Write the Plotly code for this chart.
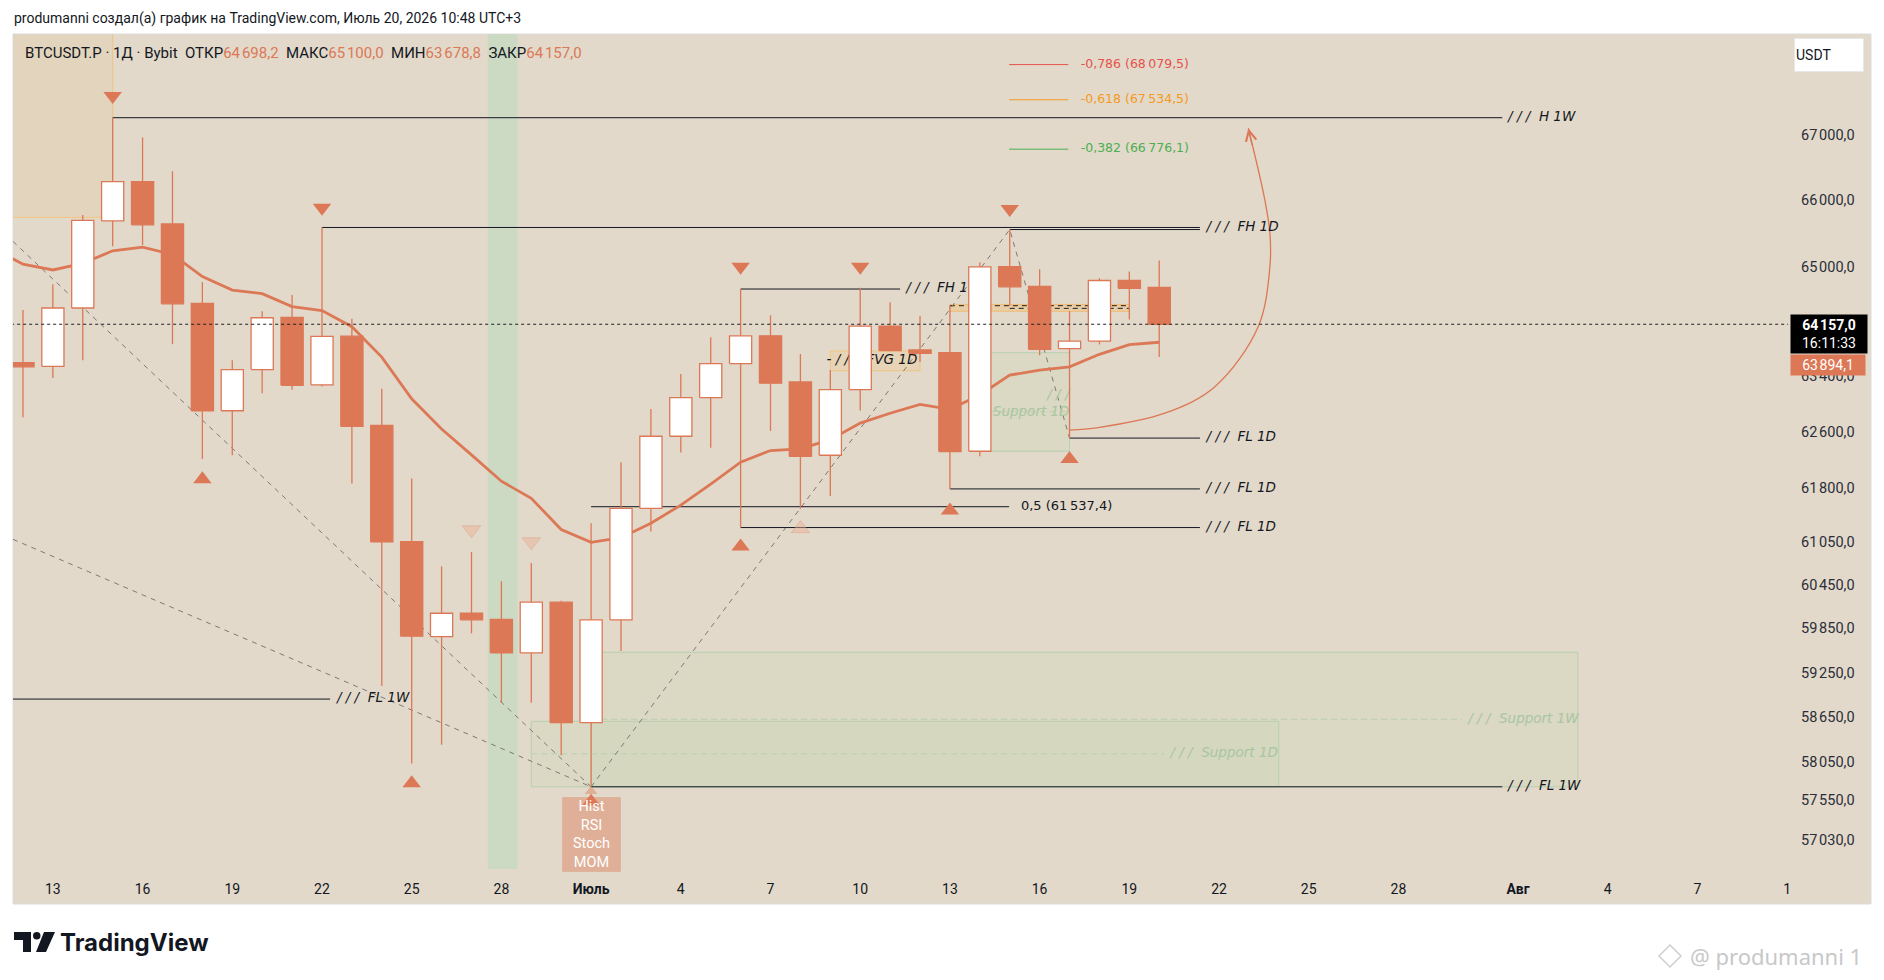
import math
import pandas as pd
import plotly.graph_objects as go

ORANGE = "#dc7856"
BG = "#e2d9ca"
INK = "#131722"
ZONE_GREEN = "#a8c69f"

# ---- BTCUSDT.P 1D (Bybit) ----
days = ["2026-06-12", "2026-06-13", "2026-06-14", "2026-06-15", "2026-06-16", "2026-06-17",
        "2026-06-18", "2026-06-19", "2026-06-20", "2026-06-21", "2026-06-22", "2026-06-23",
        "2026-06-24", "2026-06-25", "2026-06-26", "2026-06-27", "2026-06-28", "2026-06-29",
        "2026-06-30", "2026-07-01", "2026-07-02", "2026-07-03", "2026-07-04", "2026-07-05",
        "2026-07-06", "2026-07-07", "2026-07-08", "2026-07-09", "2026-07-10", "2026-07-11",
        "2026-07-12", "2026-07-13", "2026-07-14", "2026-07-15", "2026-07-16", "2026-07-17",
        "2026-07-18", "2026-07-19", "2026-07-20"]
opens = [63596, 63543, 64396, 65691, 66283, 65644, 64464, 62902, 63496, 64258, 63276, 63983,
         62692, 61047, 59737, 60057, 59973, 59515, 60210, 58575, 59967, 61513, 62536, 63091,
         63583, 63988, 63316, 62265, 63205, 64130, 63781, 63742, 62322, 65007, 64713, 63800,
         63911, 64802, 64698.2]
highs = [64365, 64746, 65780, 67258, 66956, 66440, 64779, 63632, 64350, 64588, 65592, 64239,
         63219, 61935, 60704, 60904, 60499, 60751, 60230, 61305, 62167, 62927, 63431, 63966,
         64676, 64289, 63723, 63491, 64694, 64479, 64280, 64430, 65068, 65561, 64968, 64352,
         64836, 64937, 65100]
lows = [62808, 63374, 63632, 65312, 65329, 63866, 62213, 62265, 63153, 63205, 63250, 61865,
        59068, 58029, 58280, 59783, 58842, 58842, 58141, 57722, 59542, 61191, 62305, 62373,
        61245, 62612, 61509, 61689, 62904, 63762, 63608, 61788, 62252, 64430, 63704, 62510,
        63863, 64227, 63678.8]
closes = [63536, 64396, 65698, 66283, 65631, 64457, 62902, 63496, 64253, 63269, 63980, 62678,
          61044, 59743, 60057, 59967, 59515, 60210, 58575, 59967, 61513, 62536, 63091, 63583,
          63988, 63300, 62248, 63205, 64130, 63772, 63733, 62317, 65003, 64708, 63791, 63911,
          64802, 64685, 64157]

# moving average (orange line)
ma_days = ["2026-06-11"] + days
ma_vals = [65284, 65044, 64958, 65057, 65243, 65297, 65189, 64859, 64660, 64607, 64417, 64358,
           64121, 63678, 63074, 62639, 62270, 61897, 61655, 61218, 61038, 61104, 61305, 61560,
           61856, 62167, 62332, 62356, 62488, 62724, 62866, 62994, 62923, 63129, 63416, 63487,
           63536, 63718, 63858, 63894.1]

# horizontal levels
lvl_start = ["2026-06-15", "2026-06-22", "2026-07-15", "2026-07-06", "2026-07-17",
             "2026-07-13", "2026-07-06", "2026-06-10", "2026-07-01", "2026-07-01"]
lvl_end = ["2026-07-31 11:20", "2026-07-21 08:40", "2026-07-21 08:40", "2026-07-11 08:00",
           "2026-07-21 08:40", "2026-07-21 08:40", "2026-07-21 08:40", "2026-06-22 06:30",
           "2026-07-31 11:20", "2026-07-14 23:30"]
lvl_price = [67258, 65592, 65561, 64676, 62510, 61788, 61245, 58891, 57722, 61537.4]
lvl_label = ["<i>/ / /  H 1W</i>", "<i>/ / /  FH 1D</i>", "", "<i>/ / /  FH 1D</i>",
             "<i>/ / /  FL 1D</i>", "<i>/ / /  FL 1D</i>", "<i>/ / /  FL 1D</i>",
             "<i>/ / /  FL 1W</i>", "<i>/ / /  FL 1W</i>", "0,5 (61\u202f537,4)"]
lvl_label_x = ["2026-07-31 16:00", "2026-07-21 14:00", "2026-07-21 14:00", "2026-07-11 13:00",
               "2026-07-21 14:00", "2026-07-21 14:00", "2026-07-21 14:00", "2026-06-22 12:00",
               "2026-07-31 16:00", "2026-07-15 09:00"]

# fib extension levels
fib_label = ["-0,786 (68\u202f079,5)", "-0,618 (67\u202f534,5)", "-0,382 (66\u202f776,1)"]
fib_price = [68079.5, 67534.5, 66776.1]
fib_color = ["#e5534b", "#f59a23", "#4caf50"]
fib_start = "2026-07-14 23:30"
fib_end = "2026-07-16 23:00"

# support zones
zone_x0 = ["2026-07-01", "2026-06-29", "2026-07-14"]
zone_x1 = ["2026-08-03", "2026-07-24", "2026-07-17"]
zone_lo = [57722, 57722, 62322]
zone_hi = [59524, 58592, 63742]
zone_mid = [58620, 58159, 62888]
zone_mid_x0 = ["2026-07-01", "2026-06-29", "2026-07-14"]
zone_mid_x1 = ["2026-07-30 03:00", "2026-07-20 04:00", "2026-07-17"]
zone_label = ["<i>/ / /  Support 1W</i>", "<i>/ / /  Support 1D</i>",
              "<i>/ / /<br>Support 1D</i>"]
zone_label_x = ["2026-07-30 08:00", "2026-07-20 09:00", "2026-07-17"]
zone_label_y = [58620, 58159, 63000]

# dashed trend lines
trend_x = [["2026-06-11 16:00", "2026-07-01"], ["2026-06-11 16:00", "2026-07-01"],
           ["2026-07-01", "2026-07-15", "2026-07-17"]]
trend_y = [[65383, 57722], [61080, 57722], [57722, 65561, 62510]]

# projected path (curved arrow)
curve_x = ["2026-07-17 00:00", "2026-07-17 23:00", "2026-07-20 04:30", "2026-07-21 20:40",
           "2026-07-23 07:30", "2026-07-23 16:50", "2026-07-23 16:50", "2026-07-23 12:45",
           "2026-07-22 23:30"]
curve_y = [62625, 62660, 62866, 63248, 64125, 65009, 65505, 66007, 67096]

# signal triangles
tri_down_days = ["2026-06-15", "2026-06-22", "2026-07-06", "2026-07-10", "2026-07-15"]
tri_down_price = [67591, 65888, 65007, 65007, 65870]
tri_up_days = ["2026-06-18", "2026-06-25", "2026-07-01", "2026-07-06", "2026-07-13", "2026-07-17"]
tri_up_price = [61924, 57770, 57525, 60979, 61484, 62213]
faint_down_days = ["2026-06-27", "2026-06-29"]
faint_down_price = [61214, 61047]
faint_up_days = ["2026-07-08"]
faint_up_price = [61231]

last_price = 64157
ma_last = 63894.1

tick_days = ["2026-06-13", "2026-06-16", "2026-06-19", "2026-06-22", "2026-06-25", "2026-06-28",
             "2026-07-01", "2026-07-04", "2026-07-07", "2026-07-10", "2026-07-13", "2026-07-16",
             "2026-07-19", "2026-07-22", "2026-07-25", "2026-07-28", "2026-08-01", "2026-08-04",
             "2026-08-07", "2026-08-10"]
tick_text = ["13", "16", "19", "22", "25", "28", "<b>Июль</b>", "4", "7", "10", "13", "16",
             "19", "22", "25", "28", "<b>Авг</b>", "4", "7", "1"]
price_ticks = [67000, 66000, 65000, 63400, 62600, 61800, 61050, 60450, 59850, 59250, 58650,
               58050, 57550, 57030]


def fmt(v):
    s = f"{v:,.1f}"
    return s.replace(",", " ").replace(".", ",").replace(" ", "\u202f")


W, H = 1884, 980
ML, MR, MT, MB = 13, 96, 34, 111
PW, PH = W - ML - MR, H - MT - MB


def pp(x, y):
    # pixel -> paper
    return (x - ML) / PW, (H - MB - y) / PH


fig = go.Figure()


def line(x, y, color, width=1.0, dash=None):
    fig.add_trace(go.Scatter(x=x, y=y, mode="lines", hoverinfo="skip",
                             line=dict(color=color, width=width, dash=dash)))


def box(x0, x1, lo, hi, fill, edge):
    fig.add_trace(go.Scatter(x=[x0, x1, x1, x0, x0], y=[lo, lo, hi, hi, lo], mode="lines",
                             fill="toself", fillcolor=fill, hoverinfo="skip",
                             line=dict(color=edge, width=1)))


def labels(x, y, text, color=INK, size=13.5, pos="middle right"):
    fig.add_trace(go.Scatter(x=x, y=y, mode="text", text=text, textposition=pos,
                             hoverinfo="skip",
                             textfont=dict(family="DejaVu Sans", size=size, color=color)))


# highlighted weekly area, top left
box("2026-06-10", "2026-06-15", 65743, 70000, "rgba(240,185,110,0.13)", "rgba(245,190,110,0.75)")

# zones
for i in range(len(zone_x0)):
    box(zone_x0[i], zone_x1[i], zone_lo[i], zone_hi[i], "rgba(170,210,160,0.12)", "#b7d1ae")
    line([zone_mid_x0[i], zone_mid_x1[i]], [zone_mid[i], zone_mid[i]], "#b7d1ae", 1, "6px,4px")
box("2026-07-09", "2026-07-12", 63479, 63767, "rgba(245,196,128,0.28)", "#f0c584")
box("2026-07-13", "2026-07-19", 64348, 64449, "rgba(245,190,110,0.40)", "rgba(240,185,110,0.9)")
line(["2026-07-13", "2026-07-19"], [64430, 64430], "#1e1e1e", 1, "5px,4px")
line(["2026-07-15", "2026-07-19"], [64391, 64391], "#1e1e1e", 1, "5px,4px")

# dashed trend lines
for tx, ty in zip(trend_x, trend_y):
    line(tx, ty, "#7d7a75", 1, "5px,5px")

# levels
for i in range(len(lvl_price)):
    line([lvl_start[i], lvl_end[i]], [lvl_price[i], lvl_price[i]], INK, 1.0)
for i in range(len(fib_price)):
    line([fib_start, fib_end], [fib_price[i], fib_price[i]], fib_color[i], 1.0)

# projected path
line(curve_x, curve_y, ORANGE, 1.3)
fig.data[-1].line.shape = "spline"

# moving average
line(ma_days, ma_vals, ORANGE, 2.8)

# text labels (drawn under the candles)
labels(lvl_label_x[:-1], lvl_price[:-1], lvl_label[:-1])
labels(lvl_label_x[-1:], lvl_price[-1:], lvl_label[-1:], INK, 13)
for i in range(len(fib_price)):
    labels(["2026-07-17 09:00"], [fib_price[i]], [fib_label[i]], fib_color[i], 12.5)
labels(zone_label_x[:2], zone_label_y[:2], zone_label[:2], ZONE_GREEN)
labels(zone_label_x[2:], zone_label_y[2:], zone_label[2:], ZONE_GREEN, 13.5, "middle left")
labels(["2026-07-08 21:00"], [63620], ["<i>- / / /  FVG 1D</i>"])

# candles
half = pd.Timedelta(hours=8.9)
wx, wy = [], []
up_x, up_y, dn_x, dn_y = [], [], [], []
for d, o, h, l, c in zip(days, opens, highs, lows, closes):
    t = pd.Timestamp(d)
    wx += [t, t, None]
    wy += [h, l, None]
    bx = [t - half, t + half, t + half, t - half, t - half, None]
    by = [min(o, c), min(o, c), max(o, c), max(o, c), min(o, c), None]
    if c >= o:
        up_x += bx
        up_y += by
    else:
        dn_x += bx
        dn_y += by
fig.add_trace(go.Scatter(x=wx, y=wy, mode="lines", hoverinfo="skip",
                         line=dict(color=ORANGE, width=1.3)))
fig.add_trace(go.Scatter(x=up_x, y=up_y, mode="lines", fill="toself", fillcolor="white",
                         hoverinfo="skip", line=dict(color=ORANGE, width=1.3)))
fig.add_trace(go.Scatter(x=dn_x, y=dn_y, mode="lines", fill="toself", fillcolor=ORANGE,
                         hoverinfo="skip", line=dict(color=ORANGE, width=1.3)))

# last price dotted line
line(["2026-06-10", "2026-08-12"], [last_price, last_price], "#222222", 1.1, "dot")

# triangles
fig.add_trace(go.Scatter(x=tri_down_days, y=tri_down_price, mode="markers", hoverinfo="skip",
                         marker=dict(symbol="triangle-down", size=16, color=ORANGE, line_width=0)))
fig.add_trace(go.Scatter(x=tri_up_days, y=tri_up_price, mode="markers", hoverinfo="skip",
                         marker=dict(symbol="triangle-up", size=16, color=ORANGE, line_width=0)))
fig.add_trace(go.Scatter(x=faint_down_days, y=faint_down_price, mode="markers", hoverinfo="skip",
                         marker=dict(symbol="triangle-down", size=16, color="rgba(235,175,145,0.45)",
                                     line=dict(color="rgba(220,120,86,0.25)", width=1))))
fig.add_trace(go.Scatter(x=faint_up_days, y=faint_up_price, mode="markers", hoverinfo="skip",
                         marker=dict(symbol="triangle-up", size=16, color="rgba(235,175,145,0.45)",
                                     line=dict(color="rgba(220,120,86,0.25)", width=1))))
# pointer of the indicator label
fig.add_trace(go.Scatter(x=["2026-07-01"], y=[57665], mode="markers", hoverinfo="skip",
                         marker=dict(symbol="triangle-up", size=11, color="rgba(220,120,86,0.43)",
                                     line_width=0)))

shapes = []
x0, y0 = pp(13, 904)
x1, y1 = pp(1871, 34)
shapes.append(dict(type="rect", xref="paper", yref="paper", x0=x0, y0=y0, x1=x1, y1=y1,
                   fillcolor=BG, line=dict(color="#dcdcdc", width=1), layer="below"))
shapes.append(dict(type="rect", xref="x", yref="paper", x0="2026-06-27 13:00", x1="2026-06-28 13:00",
                   y0=0, y1=1, fillcolor="#ccdac3", line_width=0, layer="below"))


def path(points):
    s = []
    for k, (x, y) in enumerate(points):
        a, b = pp(x, y)
        s.append(("M" if k == 0 else "L") + f"{a:.5f},{b:.5f}")
    return " ".join(s) + " Z"


# TradingView logo
shapes.append(dict(type="path", xref="paper", yref="paper", line_width=0, fillcolor=INK,
                   path=path([(14, 932), (31, 932), (31, 952), (23, 952), (23, 940), (14, 940)])))
ca, cb = pp(33, 932)
cc, cd = pp(40.5, 939.5)
shapes.append(dict(type="circle", xref="paper", yref="paper", x0=ca, y0=cb, x1=cc, y1=cd,
                   fillcolor=INK, line_width=0))
shapes.append(dict(type="path", xref="paper", yref="paper", line_width=0, fillcolor=INK,
                   path=path([(44, 932), (55, 932), (46, 952), (36, 952)])))
# watermark diamond
shapes.append(dict(type="path", xref="paper", yref="paper", fillcolor="rgba(0,0,0,0)",
                   line=dict(color="#cfcfcf", width=1.5),
                   path=path([(1670, 945), (1681, 956), (1670, 967), (1659, 956)])))

ann = []
hx, hy = pp(12, 19)
ann.append(dict(xref="paper", yref="paper", x=hx, y=hy, xanchor="left", yanchor="middle",
                showarrow=False, font=dict(size=14, color=INK),
                text="produmanni создал(а) график на TradingView.com, Июль 20, 2026 10:48 UTC+3"))
lx, ly = pp(23, 53)
oc = "<span style='color:%s'>%s</span>"
ann.append(dict(xref="paper", yref="paper", x=lx, y=ly, xanchor="left", yanchor="middle",
                showarrow=False, font=dict(size=15, color=INK),
                text="BTCUSDT.P · 1Д · Bybit  ОТКР" + oc % (ORANGE, fmt(opens[-1]))
                     + "  МАКС" + oc % (ORANGE, fmt(highs[-1]))
                     + "  МИН" + oc % (ORANGE, fmt(lows[-1]))
                     + "  ЗАКР" + oc % (ORANGE, fmt(closes[-1]))))
ux, uy = pp(1794, 55)
ann.append(dict(xref="paper", yref="paper", x=ux, y=uy, xanchor="left", yanchor="middle",
                showarrow=False, text="USDT", font=dict(size=14, color=INK), align="left",
                bgcolor="white", bordercolor="#e8e8e8", borderwidth=1, width=66, height=30))
bx_, by_ = pp(1790, 334)
ann.append(dict(xref="paper", yref="paper", x=bx_, y=by_, xanchor="left", yanchor="middle",
                showarrow=False, text="<b>" + fmt(last_price) + "</b><br>16:11:33",
                font=dict(size=14, color="white"), bgcolor="black", borderpad=2, width=72))
ox, oy = pp(1790, 365)
ann.append(dict(xref="paper", yref="paper", x=ox, y=oy, xanchor="left", yanchor="middle",
                showarrow=False, text=fmt(ma_last), font=dict(size=14, color="white"),
                bgcolor=ORANGE, borderpad=2, width=70))
_, hy2 = pp(0, 797)
ann.append(dict(xref="x", yref="paper", x="2026-07-01", y=hy2, xanchor="center", yanchor="top",
                showarrow=False, text="Hist<br>RSI<br>Stoch<br>MOM",
                font=dict(size=14.5, color="white"), bgcolor="rgba(220,120,86,0.43)",
                bordercolor="rgba(220,120,86,0.2)", borderwidth=1, width=57, height=73,
                borderpad=0))
ann.append(dict(xref="x", yref="y", x=curve_x[-1], y=math.log10(curve_y[-1]), ax=4, ay=18,
                showarrow=True, arrowhead=5, arrowsize=1.6, arrowwidth=1.3, arrowcolor=ORANGE,
                text=""))
tx, ty = pp(58, 942)
ann.append(dict(xref="paper", yref="paper", x=tx, y=ty, xanchor="left", yanchor="middle",
                showarrow=False, text="<b>TradingView</b>",
                font=dict(family="Inter, Roboto, sans-serif", size=24, color=INK)))
wx_, wy_ = pp(1688, 956)
ann.append(dict(xref="paper", yref="paper", x=wx_, y=wy_, xanchor="left", yanchor="middle",
                showarrow=False, text="@ produmanni 1",
                font=dict(family="Noto Sans", size=22, color="#c8c8c8")))

fig.update_layout(
    width=W, height=H, template="none",
    margin=dict(l=ML, r=MR, t=MT, b=MB, autoexpand=False),
    paper_bgcolor="white", plot_bgcolor=BG, showlegend=False,
    font=dict(family="Roboto, Lato, sans-serif", size=14, color=INK),
    xaxis=dict(type="date", range=["2026-06-11 16:00", "2026-08-10 00:40"],
               tickvals=tick_days, ticktext=tick_text, showgrid=False, zeroline=False,
               showline=False, ticks="", ticklabelstandoff=10, tickfont=dict(size=14, color=INK)),
    yaxis=dict(type="log", side="right", range=[math.log10(56648), math.log10(68557)],
               tickvals=price_ticks, ticktext=[fmt(v) for v in price_ticks], showgrid=False,
               zeroline=False, showline=False, ticks="", ticklabelstandoff=12,
               tickfont=dict(size=14.5, color="#2a2e39")),
    shapes=shapes, annotations=ann,
)

# page without the default body margin so the figure sits at (0, 0)
fig.write_html("out.html", config={"displayModeBar": False},
               post_script="document.body.style.margin='0';")
